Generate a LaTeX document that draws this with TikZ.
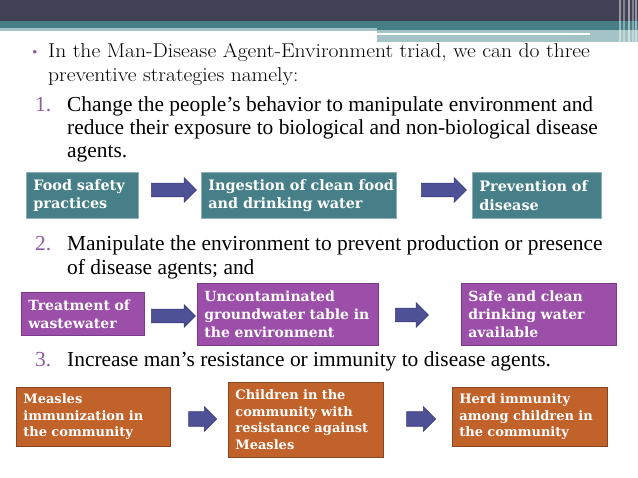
\documentclass[tikz,border=0pt]{standalone}
\usepackage{fontspec}
\newfontfamily\bodyfont[FakeStretch=1.08]{Latin Modern Roman}
\newfontfamily\itemfont{Liberation Serif}
\newfontfamily\boxfont{DejaVu Serif}
\usetikzlibrary{shapes.arrows}
\definecolor{topdark}{HTML}{414155}
\definecolor{topteal}{HTML}{457F85}
\definecolor{toplight}{HTML}{A4C3C6}
\definecolor{tealbox}{HTML}{467F87}
\definecolor{tealedge}{HTML}{8FB0B4}
\definecolor{purplebox}{HTML}{9C4FA8}
\definecolor{purpleedge}{HTML}{7E3A8A}
\definecolor{orangebox}{HTML}{C1622B}
\definecolor{orangeedge}{HTML}{8C4520}
\definecolor{arrowfill}{HTML}{4F5196}
\definecolor{arrowedge}{HTML}{3A3C7E}
\definecolor{numcol}{HTML}{8E5AA0}
\begin{document}
\begin{tikzpicture}[x=1pt,y=-1pt,
  bodytext/.style={anchor=base west, inner sep=0pt, font=\bodyfont\fontsize{20}{24}\selectfont},
  itemtext/.style={anchor=base west, inner sep=0pt, font=\itemfont\fontsize{21.4}{25}\selectfont},
  itemnum/.style={anchor=base west, inner sep=0pt, text=numcol, font=\itemfont\fontsize{21.4}{25}\selectfont},
  box/.style={rectangle, anchor=north west, inner xsep=7pt, inner ysep=1pt, align=left, text=white, line width=0.8pt},
  boxA/.style={box, fill=tealbox, draw=tealedge, font=\boxfont\bfseries\fontsize{14.4}{18.5}\selectfont},
  boxB/.style={box, fill=purplebox, draw=purpleedge, font=\boxfont\bfseries\fontsize{14}{18}\selectfont},
  boxC/.style={box, fill=orangebox, draw=orangeedge, font=\boxfont\bfseries\fontsize{13}{16.5}\selectfont},
  blockarrow/.style={single arrow, fill=arrowfill, draw=arrowedge, line width=0.6pt, inner xsep=0pt, inner ysep=6.5pt, single arrow head extend=5.5pt, single arrow tip angle=90}
]
\useasboundingbox (0,0) rectangle (638,478);
\fill[white] (0,0) rectangle (638,478);
% top decoration
\fill[topdark] (0,0) rectangle (638,21);
\fill[topteal] (0,21) rectangle (638,28);
\fill[toplight] (0,28) rectangle (377,31);
\fill[topteal] (377,28) rectangle (638,30);
\fill[toplight] (377,30) rectangle (638,42);
\fill[white] (377,33) rectangle (590,35);
\foreach \xx/\op in {619/0.45,623/0.35,628/0.5,632/0.35,635/0.45}
  \fill[white,opacity=\op] (\xx,0) rectangle (\xx+1.5,42);
% bullet text
\node[anchor=base west, inner sep=0pt, text=numcol, font=\fontsize{16}{20}\selectfont] (bul) at (29,57) {\textbullet};
\node[bodytext] (l1) at (48,58) {In the Man-Disease Agent-Environment triad, we can do three};
\node[bodytext] (l2) at (48,82) {preventive strategies namely:};
% item 1
\node[itemnum] (n1) at (35,112) {1.};
\node[itemtext] (i1a) at (67,112) {Change the people’s behavior to manipulate environment and};
\node[itemtext] (i1b) at (67,135) {reduce their exposure to biological and non-biological disease};
\node[itemtext] (i1c) at (67,158) {agents.};
% row 1
\node[boxA, minimum width=112, minimum height=46, text width=98] (b11) at (26,172) {\mbox{Food safety}\\\mbox{practices}};
\node[boxA, minimum width=195, minimum height=46, text width=181] (b12) at (201,172) {\mbox{Ingestion of clean food}\\\mbox{and drinking water}};
\node[boxA, minimum width=129, minimum height=46, text width=115] (b13) at (472,172) {\mbox{Prevention of}\\\mbox{disease}};
\node[blockarrow, minimum height=45] (a11) at (170.5,190) {};
\node[blockarrow, minimum height=45] (a12) at (440.5,190) {};
% item 2
\node[itemnum] (n2) at (35,251) {2.};
\node[itemtext] (i2a) at (67,251) {Manipulate the environment to prevent production or presence};
\node[itemtext] (i2b) at (67,275) {of disease agents; and};
% row 2
\node[boxB, minimum width=123, minimum height=43, text width=109] (b21) at (21,292) {\mbox{Treatment of}\\\mbox{wastewater}};
\node[boxB, minimum width=181, minimum height=62, text width=167] (b22) at (197,283) {\mbox{Uncontaminated}\\\mbox{groundwater table in}\\\mbox{the environment}};
\node[boxB, minimum width=155, minimum height=62, text width=141] (b23) at (461,283) {\mbox{Safe and clean}\\\mbox{drinking water}\\\mbox{available}};
\node[blockarrow, minimum height=44, single arrow head extend=4.5pt] (a21) at (170,316) {};
\node[blockarrow, minimum height=33] (a22) at (408.5,315) {};
% item 3
\node[itemnum] (n3) at (35,367) {3.};
\node[itemtext] (i3a) at (67,367) {Increase man’s resistance or immunity to disease agents.};
% row 3
\node[boxC, minimum width=154, minimum height=59, text width=140] (b31) at (16,387) {\mbox{Measles}\\\mbox{immunization in}\\\mbox{the community}};
\node[boxC, minimum width=155, minimum height=75, text width=141] (b32) at (228,382) {\mbox{Children in the}\\\mbox{community with}\\\mbox{resistance against}\\\mbox{Measles}};
\node[boxC, minimum width=155, minimum height=59, text width=141] (b33) at (452,387) {\mbox{Herd immunity}\\\mbox{among children in}\\\mbox{the community}};
\node[blockarrow, minimum height=28, inner ysep=7pt, single arrow head extend=5pt] (a31) at (199,419) {};
\node[blockarrow, minimum height=29, inner ysep=7pt, single arrow head extend=5pt] (a32) at (417.5,419) {};
\end{tikzpicture}
\end{document}
